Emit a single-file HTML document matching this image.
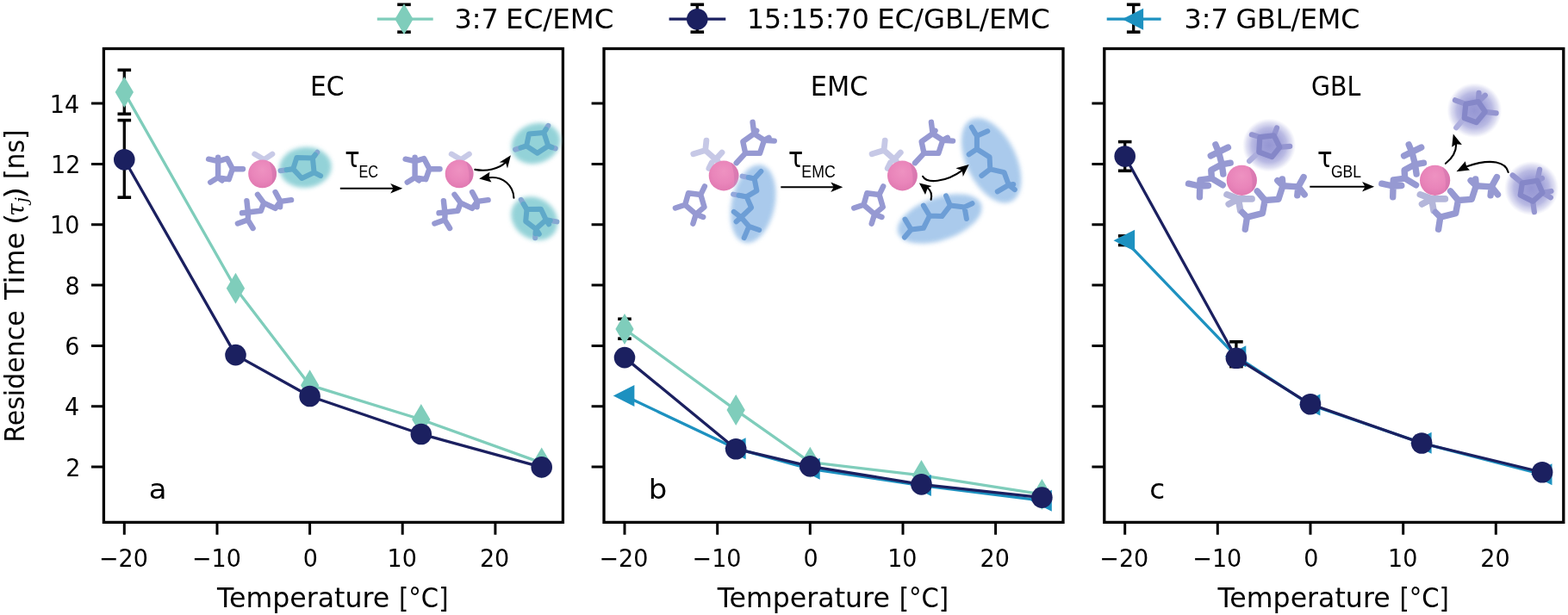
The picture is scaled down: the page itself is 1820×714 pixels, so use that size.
<!DOCTYPE html>
<html lang="en"><head><meta charset="utf-8"><title>Residence time vs temperature</title>
<style>html,body{margin:0;padding:0;background:#fff}body{width:1820px;height:714px;overflow:hidden}svg{display:block;filter:blur(0.35px)}</style>
</head><body>
<svg width="1820" height="714" viewBox="0 0 1820 714" font-family='"DejaVu Sans", "Liberation Sans", sans-serif' fill="#000">
<defs>
<filter id="b1" x="-10%" y="-10%" width="120%" height="120%"><feGaussianBlur stdDeviation="0.5"/></filter>
<filter id="b2" x="-40%" y="-40%" width="180%" height="180%"><feGaussianBlur stdDeviation="2.6"/></filter>
<radialGradient id="li" cx="0.5" cy="0.4" r="0.7" fx="0.5" fy="0.35">
<stop offset="0" stop-color="#ee92c1"/><stop offset="0.55" stop-color="#e985ba"/><stop offset="0.9" stop-color="#e078b0"/><stop offset="1" stop-color="#d56ea8"/>
</radialGradient>
<radialGradient id="hg" cx="0.5" cy="0.5" r="0.5">
<stop offset="0" stop-color="#9091d1" stop-opacity="0.95"/><stop offset="0.4" stop-color="#9798d5" stop-opacity="0.9"/><stop offset="0.65" stop-color="#a3a4da" stop-opacity="0.75"/><stop offset="0.85" stop-color="#b4b5e1" stop-opacity="0.42"/><stop offset="1" stop-color="#c8c9ea" stop-opacity="0"/>
</radialGradient>
</defs>
<rect width="1820" height="714" fill="#fff"/>
<path d="M437.8 22.2H502.7" stroke="#7fcdbb" stroke-width="3.3" fill="none"/><path d="M469.0 5.3V37.2" stroke="#000" stroke-width="3.3" fill="none"/><path d="M461.2 5.3H476.8" stroke="#000" stroke-width="3.6" fill="none"/><path d="M461.2 37.2H476.8" stroke="#000" stroke-width="3.6" fill="none"/><path d="M469.0 4.2L479.6 22.2L469.0 40.2L458.4 22.2Z" fill="#7fcdbb"/><text y="33.0" font-size="31.8" xml:space="preserve"><tspan x="527.51" textLength="51.26" lengthAdjust="spacingAndGlyphs">3:7</tspan> <tspan x="587.13" textLength="125.37" lengthAdjust="spacingAndGlyphs">EC/EMC</tspan></text>
<path d="M776.6 22.2H842.3" stroke="#1b2060" stroke-width="3.3" fill="none"/><path d="M809.3 5.3V37.2" stroke="#000" stroke-width="3.3" fill="none"/><path d="M801.5 5.3H817.1" stroke="#000" stroke-width="3.6" fill="none"/><path d="M801.5 37.2H817.1" stroke="#000" stroke-width="3.6" fill="none"/><circle cx="809.3" cy="22.2" r="12.3" fill="#1b2060"/><text y="33.0" font-size="31.8" xml:space="preserve"><tspan x="866.93" textLength="141.87" lengthAdjust="spacingAndGlyphs">15:15:70</tspan> <tspan x="1018.15" textLength="200.54" lengthAdjust="spacingAndGlyphs">EC/GBL/EMC</tspan></text>
<path d="M1284.7 22.2H1347.6" stroke="#1d91c0" stroke-width="3.3" fill="none"/><path d="M1315.7 5.3V37.2" stroke="#000" stroke-width="3.3" fill="none"/><path d="M1307.9 5.3H1323.5" stroke="#000" stroke-width="3.6" fill="none"/><path d="M1307.9 37.2H1323.5" stroke="#000" stroke-width="3.6" fill="none"/><path d="M1302.5 22.2L1327.1 9.7L1327.1 34.7Z" fill="#1d91c0"/><text y="33.0" font-size="31.8" xml:space="preserve"><tspan x="1374.46" textLength="51.31" lengthAdjust="spacingAndGlyphs">3:7</tspan> <tspan x="1434.56" textLength="143.92" lengthAdjust="spacingAndGlyphs">GBL/EMC</tspan></text>
<g><path d="M144.3 107.1L273.5 334.8L359.6 447.2L488.8 487.0L628.7 537.4" stroke="#7fcdbb" stroke-width="3.3" fill="none" stroke-linejoin="round"/><path d="M144.3 81.3V132.3" stroke="#000" stroke-width="3.3" fill="none"/><path d="M136.5 81.3H152.1" stroke="#000" stroke-width="3.6" fill="none"/><path d="M136.5 132.3H152.1" stroke="#000" stroke-width="3.6" fill="none"/><path d="M144.3 89.1L155.0 107.1L144.3 125.1L133.7 107.1Z" fill="#7fcdbb"/><path d="M273.5 316.8L284.1 334.8L273.5 352.8L262.8 334.8Z" fill="#7fcdbb"/><path d="M359.6 429.2L370.2 447.2L359.6 465.2L349.0 447.2Z" fill="#7fcdbb"/><path d="M488.8 469.0L499.4 487.0L488.8 505.0L478.1 487.0Z" fill="#7fcdbb"/><path d="M628.7 519.4L639.4 537.4L628.7 555.4L618.1 537.4Z" fill="#7fcdbb"/><path d="M144.3 185.2L273.5 412.1L359.6 460.0L488.8 504.0L628.7 542.4" stroke="#1b2060" stroke-width="3.3" fill="none" stroke-linejoin="round"/><path d="M144.3 139.6V229.2" stroke="#000" stroke-width="3.3" fill="none"/><path d="M136.5 139.6H152.1" stroke="#000" stroke-width="3.6" fill="none"/><path d="M136.5 229.2H152.1" stroke="#000" stroke-width="3.6" fill="none"/><circle cx="144.3" cy="185.2" r="12.3" fill="#1b2060"/><circle cx="273.5" cy="412.1" r="12.3" fill="#1b2060"/><circle cx="359.6" cy="460.0" r="12.3" fill="#1b2060"/><circle cx="488.8" cy="504.0" r="12.3" fill="#1b2060"/><circle cx="628.7" cy="542.4" r="12.3" fill="#1b2060"/></g>
<rect x="120.4" y="56.5" width="533.0" height="549.9" fill="none" stroke="#000" stroke-width="3.3"/>
<path d="M144.3 606.4V620.8M252.0 606.4V620.8M359.6 606.4V620.8M467.2 606.4V620.8M574.9 606.4V620.8M120.4 542.1H106.0M120.4 471.8H106.0M120.4 401.4H106.0M120.4 331.1H106.0M120.4 260.7H106.0M120.4 190.4H106.0M120.4 120.1H106.0" stroke="#000" stroke-width="3.0" fill="none"/>
<text transform="translate(114.89 657.9) scale(0.9570 1)" font-size="28.2">−20</text>
<text transform="translate(222.94 657.9) scale(0.9570 1)" font-size="28.2">−10</text>
<text transform="translate(351.78 657.9) scale(0.9570 1)" font-size="28.2">0</text>
<text transform="translate(449.57 657.9) scale(0.9570 1)" font-size="28.2">10</text>
<text transform="translate(556.93 657.9) scale(0.9570 1)" font-size="28.2">20</text>
<text transform="translate(76.26 552.5) scale(0.9570 1)" font-size="28.2">2</text>
<text transform="translate(75.05 482.2) scale(0.9570 1)" font-size="28.2">4</text>
<text transform="translate(75.25 411.8) scale(0.9570 1)" font-size="28.2">6</text>
<text transform="translate(75.38 341.5) scale(0.9570 1)" font-size="28.2">8</text>
<text transform="translate(58.11 271.1) scale(0.9570 1)" font-size="28.2">10</text>
<text transform="translate(59.06 200.8) scale(0.9570 1)" font-size="28.2">12</text>
<text transform="translate(57.84 130.5) scale(0.9570 1)" font-size="28.2">14</text>
<text y="704.7" font-size="31.8" xml:space="preserve"><tspan x="252.03" textLength="200.22" lengthAdjust="spacingAndGlyphs">Temperature</tspan> <tspan x="463.03" textLength="57.47" lengthAdjust="spacingAndGlyphs">[°C]</tspan></text>
<text transform="translate(360.06 110.7) scale(0.9333 1)" font-size="31.8">EC</text>
<text transform="translate(172.86 579.2) scale(1.0675 1)" font-size="31.8">a</text>
<g><path d="M725.0 382.0L854.2 476.1L940.3 536.7L1069.5 551.9L1209.4 573.9" stroke="#7fcdbb" stroke-width="3.3" fill="none" stroke-linejoin="round"/><path d="M725.0 370.3V393.2" stroke="#000" stroke-width="3.3" fill="none"/><path d="M717.2 370.3H732.8" stroke="#000" stroke-width="3.6" fill="none"/><path d="M717.2 393.2H732.8" stroke="#000" stroke-width="3.6" fill="none"/><path d="M725.0 364.0L735.6 382.0L725.0 400.0L714.4 382.0Z" fill="#7fcdbb"/><path d="M854.2 458.1L864.8 476.1L854.2 494.1L843.5 476.1Z" fill="#7fcdbb"/><path d="M940.3 518.7L951.0 536.7L940.3 554.7L929.7 536.7Z" fill="#7fcdbb"/><path d="M1069.5 533.9L1080.1 551.9L1069.5 569.9L1058.8 551.9Z" fill="#7fcdbb"/><path d="M1209.4 555.9L1220.1 573.9L1209.4 591.9L1198.8 573.9Z" fill="#7fcdbb"/><path d="M725.0 459.6L854.2 520.7L940.3 544.3L1069.5 563.5L1209.4 581.2" stroke="#1d91c0" stroke-width="3.3" fill="none" stroke-linejoin="round"/><path d="M711.8 459.6L736.4 447.1L736.4 472.1Z" fill="#1d91c0"/><path d="M841.0 520.7L865.6 508.2L865.6 533.2Z" fill="#1d91c0"/><path d="M927.1 544.3L951.7 531.8L951.7 556.8Z" fill="#1d91c0"/><path d="M1056.3 563.5L1080.9 551.0L1080.9 576.0Z" fill="#1d91c0"/><path d="M1196.2 581.2L1220.8 568.7L1220.8 593.7Z" fill="#1d91c0"/><path d="M725.0 415.1L854.2 521.2L940.3 541.3L1069.5 562.4L1209.4 577.6" stroke="#1b2060" stroke-width="3.3" fill="none" stroke-linejoin="round"/><circle cx="725.0" cy="415.1" r="12.3" fill="#1b2060"/><circle cx="854.2" cy="521.2" r="12.3" fill="#1b2060"/><circle cx="940.3" cy="541.3" r="12.3" fill="#1b2060"/><circle cx="1069.5" cy="562.4" r="12.3" fill="#1b2060"/><circle cx="1209.4" cy="577.6" r="12.3" fill="#1b2060"/></g>
<rect x="701.0" y="56.5" width="533.0" height="549.9" fill="none" stroke="#000" stroke-width="3.3"/>
<path d="M725.0 606.4V620.8M832.7 606.4V620.8M940.3 606.4V620.8M1048.0 606.4V620.8M1155.6 606.4V620.8M701.0 542.1H686.6M701.0 471.8H686.6M701.0 401.4H686.6M701.0 331.1H686.6M701.0 260.7H686.6M701.0 190.4H686.6M701.0 120.1H686.6" stroke="#000" stroke-width="3.0" fill="none"/>
<text transform="translate(695.49 657.9) scale(0.9570 1)" font-size="28.2">−20</text>
<text transform="translate(803.54 657.9) scale(0.9570 1)" font-size="28.2">−10</text>
<text transform="translate(932.38 657.9) scale(0.9570 1)" font-size="28.2">0</text>
<text transform="translate(1030.17 657.9) scale(0.9570 1)" font-size="28.2">10</text>
<text transform="translate(1137.53 657.9) scale(0.9570 1)" font-size="28.2">20</text>
<text y="704.7" font-size="31.8" xml:space="preserve"><tspan x="832.63" textLength="200.22" lengthAdjust="spacingAndGlyphs">Temperature</tspan> <tspan x="1043.63" textLength="57.47" lengthAdjust="spacingAndGlyphs">[°C]</tspan></text>
<text transform="translate(940.84 110.7) scale(0.9546 1)" font-size="31.8">EMC</text>
<text transform="translate(752.85 579.2) scale(1.0653 1)" font-size="31.8">b</text>
<g><path d="M1305.7 279.2L1434.9 413.7L1521.0 470.1L1650.2 514.3L1790.1 550.8" stroke="#1d91c0" stroke-width="3.3" fill="none" stroke-linejoin="round"/><path d="M1305.7 273.9V284.5" stroke="#000" stroke-width="3.3" fill="none"/><path d="M1297.9 273.9H1313.5" stroke="#000" stroke-width="3.6" fill="none"/><path d="M1297.9 284.5H1313.5" stroke="#000" stroke-width="3.6" fill="none"/><path d="M1292.5 279.2L1317.1 266.7L1317.1 291.7Z" fill="#1d91c0"/><path d="M1421.7 413.7L1446.3 401.2L1446.3 426.2Z" fill="#1d91c0"/><path d="M1507.8 470.1L1532.4 457.6L1532.4 482.6Z" fill="#1d91c0"/><path d="M1637.0 514.3L1661.6 501.8L1661.6 526.8Z" fill="#1d91c0"/><path d="M1776.9 550.8L1801.5 538.3L1801.5 563.3Z" fill="#1d91c0"/><path d="M1305.7 181.5L1434.9 415.7L1521.0 469.3L1650.2 514.5L1790.1 548.3" stroke="#1b2060" stroke-width="3.3" fill="none" stroke-linejoin="round"/><path d="M1305.7 164.6V198.3" stroke="#000" stroke-width="3.3" fill="none"/><path d="M1297.9 164.6H1313.5" stroke="#000" stroke-width="3.6" fill="none"/><path d="M1297.9 198.3H1313.5" stroke="#000" stroke-width="3.6" fill="none"/><path d="M1434.9 396.8V425.6" stroke="#000" stroke-width="3.3" fill="none"/><path d="M1427.1 396.8H1442.7" stroke="#000" stroke-width="3.6" fill="none"/><path d="M1427.1 425.6H1442.7" stroke="#000" stroke-width="3.6" fill="none"/><circle cx="1305.7" cy="181.5" r="12.3" fill="#1b2060"/><circle cx="1434.9" cy="415.7" r="12.3" fill="#1b2060"/><circle cx="1521.0" cy="469.3" r="12.3" fill="#1b2060"/><circle cx="1650.2" cy="514.5" r="12.3" fill="#1b2060"/><circle cx="1790.1" cy="548.3" r="12.3" fill="#1b2060"/></g>
<rect x="1281.8" y="56.5" width="533.0" height="549.9" fill="none" stroke="#000" stroke-width="3.3"/>
<path d="M1305.7 606.4V620.8M1413.3 606.4V620.8M1521.0 606.4V620.8M1628.7 606.4V620.8M1736.3 606.4V620.8M1281.8 542.1H1267.4M1281.8 471.8H1267.4M1281.8 401.4H1267.4M1281.8 331.1H1267.4M1281.8 260.7H1267.4M1281.8 190.4H1267.4M1281.8 120.1H1267.4" stroke="#000" stroke-width="3.0" fill="none"/>
<text transform="translate(1276.29 657.9) scale(0.9570 1)" font-size="28.2">−20</text>
<text transform="translate(1384.34 657.9) scale(0.9570 1)" font-size="28.2">−10</text>
<text transform="translate(1513.18 657.9) scale(0.9570 1)" font-size="28.2">0</text>
<text transform="translate(1610.97 657.9) scale(0.9570 1)" font-size="28.2">10</text>
<text transform="translate(1718.33 657.9) scale(0.9570 1)" font-size="28.2">20</text>
<text y="704.7" font-size="31.8" xml:space="preserve"><tspan x="1413.43" textLength="200.22" lengthAdjust="spacingAndGlyphs">Temperature</tspan> <tspan x="1624.43" textLength="57.47" lengthAdjust="spacingAndGlyphs">[°C]</tspan></text>
<text transform="translate(1521.94 110.7) scale(0.8932 1)" font-size="31.8">GBL</text>
<text transform="translate(1334.31 579.2) scale(1.0252 1)" font-size="31.8">c</text>
<text transform="translate(28.0 0) rotate(-90)" font-size="31.8" xml:space="preserve"><tspan x="-513.72" y="0" textLength="153.31" lengthAdjust="spacingAndGlyphs">Residence</tspan> <tspan x="-347.92" y="0" textLength="78.09" lengthAdjust="spacingAndGlyphs">Time</tspan> <tspan x="-260.91" y="0" textLength="13.35" lengthAdjust="spacingAndGlyphs">(</tspan><tspan x="-251.10" y="0" textLength="14.79" lengthAdjust="spacingAndGlyphs" font-size="28" font-family='"DejaVu Serif", "Liberation Serif", serif' font-style="italic">τ</tspan><tspan x="-235.06" y="4.3" textLength="5.84" lengthAdjust="spacingAndGlyphs" font-size="20" font-family='"DejaVu Serif", "Liberation Serif", serif' font-style="italic">j</tspan><tspan x="-230.74" y="0" textLength="13.87" lengthAdjust="spacingAndGlyphs">)</tspan> <tspan x="-208.03" y="0" textLength="57.51" lengthAdjust="spacingAndGlyphs">[ns]</tspan></text>
<g id="mol-a" filter="url(#b1)"><path d="M295.5 178.8L306.4 185.3L316.1 178.8M306.4 185.3L306.4 188.1" fill="none" stroke="#c8cae7" stroke-width="6.4" stroke-linecap="round" stroke-linejoin="round"/><circle cx="304.6" cy="201.8" r="16.4" fill="url(#li)"/><path d="M312.3 187.3A16.4 16.4 0 0 1 315.6 214.0A49.2 49.2 0 0 0 312.3 187.3Z" fill="#c568a6" opacity="0.38"/><path d="M242.1 184.7L253.1 187.2M253.1 182.6L253.1 206.1L257.7 209.5M253.1 187.2L263.6 184.1L269.9 196.0L265.7 208.2L257.3 207.0M269.9 196.0L282.0 196.2M244.2 211.6L253.1 206.1" fill="none" stroke="#9699d2" stroke-width="6.4" stroke-linecap="round" stroke-linejoin="round"/><path d="M286.4 233.1L288.1 248.6L287.7 255.3M281.0 247.3L302.8 244.8L306.2 235.6L319.6 241.9L325.5 233.9L338.1 232.2M299.0 225.9L306.2 235.6M319.6 223.0L325.5 233.9L325.1 240.2M275.9 259.5L287.7 255.3L293.6 265.0" fill="none" stroke="#9699d2" stroke-width="6.4" stroke-linecap="round" stroke-linejoin="round"/><ellipse cx="354.5" cy="194.4" rx="30.3" ry="23.6" transform="rotate(-5 354.5 194.4)" fill="#8ed0d6" opacity="0.95" filter="url(#b2)"/><path d="M325.5 198.2L340.2 196.1M362.9 183.5L368.3 176.8" fill="none" stroke="#86a8d2" stroke-width="6.0" stroke-linecap="round" stroke-linejoin="round"/><path d="M344.4 183.1L362.9 183.5L364.6 200.3L350.3 207.0L340.2 196.1ZM332.6 197.3L340.2 196.1M362.9 183.5L365.8 179.7M364.6 200.3L372.1 204.1" fill="none" stroke="#5fa9c9" stroke-width="6.0" stroke-linecap="round" stroke-linejoin="round"/><path d="M524.0 178.8L534.9 185.3L544.6 178.8M534.9 185.3L534.9 188.1" fill="none" stroke="#c8cae7" stroke-width="6.4" stroke-linecap="round" stroke-linejoin="round"/><circle cx="533.1" cy="201.8" r="16.4" fill="url(#li)"/><path d="M540.8 187.3A16.4 16.4 0 0 1 544.1 214.0A49.2 49.2 0 0 0 540.8 187.3Z" fill="#c568a6" opacity="0.38"/><path d="M470.6 184.7L481.6 187.2M481.6 182.6L481.6 206.1L486.2 209.5M481.6 187.2L492.1 184.1L498.4 196.0L494.2 208.2L485.8 207.0M498.4 196.0L510.5 196.2M472.7 211.6L481.6 206.1" fill="none" stroke="#9699d2" stroke-width="6.4" stroke-linecap="round" stroke-linejoin="round"/><path d="M514.9 233.1L516.6 248.6L516.2 255.3M509.5 247.3L531.3 244.8L534.7 235.6L548.1 241.9L554.0 233.9L566.6 232.2M527.5 225.9L534.7 235.6M548.1 223.0L554.0 233.9L553.6 240.2M504.4 259.5L516.2 255.3L522.1 265.0" fill="none" stroke="#9699d2" stroke-width="6.4" stroke-linecap="round" stroke-linejoin="round"/><ellipse cx="622.0" cy="166.5" rx="29.0" ry="23.1" transform="rotate(-20 622.0 166.5)" fill="#8ed0d6" opacity="0.95" filter="url(#b2)"/><path d="M598.1 173.6L611.1 169.4M631.2 153.9L636.3 145.9M636.3 169.4L644.7 172.4" fill="none" stroke="#86a8d2" stroke-width="6.0" stroke-linecap="round" stroke-linejoin="round"/><path d="M614.0 155.6L631.2 153.9L636.3 169.4L623.7 177.8L611.1 169.4ZM604.4 171.5L611.1 169.4M631.2 153.9L633.8 150.1M636.3 169.4L640.5 171.1" fill="none" stroke="#5fa9c9" stroke-width="6.0" stroke-linecap="round" stroke-linejoin="round"/><ellipse cx="620.3" cy="253.6" rx="28.6" ry="23.6" transform="rotate(35 620.3 253.6)" fill="#8ed0d6" opacity="0.95" filter="url(#b2)"/><path d="M604.8 231.8L611.5 243.1M633.8 255.3L646.4 257.4M622.0 265.8L621.2 276.3" fill="none" stroke="#86a8d2" stroke-width="6.0" stroke-linecap="round" stroke-linejoin="round"/><path d="M611.5 243.1L627.9 242.7L633.8 255.3L622.0 265.8L610.2 257.0ZM607.7 236.8L611.5 243.1M633.8 255.3L638.8 256.1M633.8 255.3L637.1 260.3M622.0 265.8L621.6 271.2M622.0 265.8L625.8 271.7" fill="none" stroke="#5fa9c9" stroke-width="6.0" stroke-linecap="round" stroke-linejoin="round"/></g>
<g id="arrows-a"><path d="M394.8 218.7H457.6" stroke="#000" stroke-width="2.1" fill="none"/><path d="M467.2 218.7L453.2 212.9L456.6 218.7L453.2 224.5Z" fill="#000"/><path d="M551.3 196.9 C564.5 199.3 579.2 196.4 587.1 188.3 " stroke="#000" stroke-width="2.1" fill="none" stroke-linecap="round"/><path d="M592.9 180.2L579.7 188.5L586.9 188.8L589.0 195.4Z" fill="#000"/><path d="M596.4 229.7 C595.9 216.0 584.1 204.2 567.9 206.2 " stroke="#000" stroke-width="2.1" fill="none" stroke-linecap="round"/><path d="M556.2 207.4L568.4 199.8L567.6 206.2L570.4 211.6Z" fill="#000"/><text><tspan x="400.26" y="193.7" textLength="17.37" lengthAdjust="spacingAndGlyphs" font-family='"DejaVu Sans", "Liberation Sans", sans-serif' font-size="32.7">τ</tspan><tspan x="416.46" y="206.2" textLength="22.58" lengthAdjust="spacingAndGlyphs" font-family='"Liberation Sans", "DejaVu Sans", sans-serif' font-size="19.4">EC</tspan></text></g>
<g id="mol-b" filter="url(#b1)"><path d="M819.9 163.1L818.7 174.5L833.0 187.1M804.8 178.7L818.7 174.5M838.0 177.0L830.4 185.4M826.2 188.8L822.9 195.5" fill="none" stroke="#c6c8e6" stroke-width="6.8" stroke-linecap="round" stroke-linejoin="round"/><circle cx="840.1" cy="204.0" r="17.4" fill="url(#li)"/><path d="M848.3 188.6A17.4 17.4 0 0 1 851.7 216.9A52.2 52.2 0 0 0 848.3 188.6Z" fill="#c568a6" opacity="0.38"/><path d="M875.3 155.2L887.0 162.8L882.0 177.9L865.2 177.9L862.3 164.4ZM873.6 141.8L875.3 155.2L878.2 151.8M887.0 162.8L898.8 163.6M887.0 162.8L892.5 159.8M865.2 177.9L854.7 189.2" fill="none" stroke="#9699d2" stroke-width="6.4" stroke-linecap="round" stroke-linejoin="round"/><path d="M799.0 224.3L813.3 226.0L817.5 240.3L807.8 248.7L795.2 237.8ZM813.3 226.0L817.9 216.3M783.9 241.5L795.2 237.8M804.4 259.6L807.8 248.7L816.2 252.0" fill="none" stroke="#9699d2" stroke-width="6.4" stroke-linecap="round" stroke-linejoin="round"/><ellipse cx="874.2" cy="236.6" rx="25.1" ry="46.1" transform="rotate(12 874.2 236.6)" fill="#a6c8eb" opacity="0.95" filter="url(#b2)"/><path d="M861.6 204.6L875.6 207.4M851.1 225.6L866.5 228.4" fill="none" stroke="#93a8dc" stroke-width="6.0" stroke-linecap="round" stroke-linejoin="round"/><path d="M868.6 206.0L875.6 207.4L878.4 221.4L866.5 228.4L872.1 241.0L860.2 252.3L869.3 262.8L881.2 267.0M883.3 199.0L875.6 207.4M857.4 226.8L866.5 228.4M851.8 245.9L860.2 252.3L854.6 257.2M869.3 262.8L863.7 276.1" fill="none" stroke="#6d9ed6" stroke-width="6.0" stroke-linecap="round" stroke-linejoin="round"/><path d="M1027.2 163.1L1026.0 174.5L1040.3 187.1M1012.1 178.7L1026.0 174.5M1045.3 177.0L1037.7 185.4M1033.5 188.8L1030.2 195.5" fill="none" stroke="#c6c8e6" stroke-width="6.8" stroke-linecap="round" stroke-linejoin="round"/><circle cx="1047.4" cy="204.0" r="17.4" fill="url(#li)"/><path d="M1055.6 188.6A17.4 17.4 0 0 1 1059.0 216.9A52.2 52.2 0 0 0 1055.6 188.6Z" fill="#c568a6" opacity="0.38"/><path d="M1082.6 155.2L1094.3 162.8L1089.3 177.9L1072.5 177.9L1069.6 164.4ZM1080.9 141.8L1082.6 155.2L1085.5 151.8M1094.3 162.8L1106.1 163.6M1094.3 162.8L1099.8 159.8M1072.5 177.9L1062.0 189.2" fill="none" stroke="#9699d2" stroke-width="6.4" stroke-linecap="round" stroke-linejoin="round"/><path d="M1006.3 224.3L1020.6 226.0L1024.8 240.3L1015.1 248.7L1002.5 237.8ZM1020.6 226.0L1025.2 216.3M991.2 241.5L1002.5 237.8M1011.7 259.6L1015.1 248.7L1023.5 252.0" fill="none" stroke="#9699d2" stroke-width="6.4" stroke-linecap="round" stroke-linejoin="round"/><ellipse cx="1090.7" cy="254.0" rx="51.0" ry="24.8" transform="rotate(-19 1090.7 254.0)" fill="#a6c8eb" opacity="0.95" filter="url(#b2)"/><path d="M1050.5 254.6L1057.6 266.5L1071.9 264.8L1079.0 250.5L1093.3 251.1L1102.9 238.6L1119.5 240.4L1128.5 236.2M1049.9 275.5L1057.6 266.5M1071.9 238.6L1079.0 250.5M1098.1 227.3L1102.9 238.6M1119.5 240.4L1121.9 254.0" fill="none" stroke="#6d9ed6" stroke-width="6.0" stroke-linecap="round" stroke-linejoin="round"/><ellipse cx="1150.6" cy="186.4" rx="28.9" ry="52.8" transform="rotate(-26 1150.6 186.4)" fill="#a6c8eb" opacity="0.95" filter="url(#b2)"/><path d="M1127.8 147.7L1133.9 157.7L1133.9 173.1L1148.6 182.4L1149.3 196.3L1165.5 200.1L1170.9 214.7L1177.8 220.1M1146.3 152.3L1133.9 157.7M1124.7 179.3L1133.9 173.1M1139.3 204.0L1149.3 196.3M1157.8 222.4L1170.9 214.7M1133.9 157.7L1130.8 153.1M1170.9 214.7L1176.3 214.0" fill="none" stroke="#6d9ed6" stroke-width="6.0" stroke-linecap="round" stroke-linejoin="round"/></g>
<g id="arrows-b"><path d="M906.3 217.2H968.7" stroke="#000" stroke-width="2.1" fill="none"/><path d="M978.3 217.2L964.3 211.4L967.7 217.2L964.3 223.0Z" fill="#000"/><path d="M1071.1 204.8 C1075.5 213.1 1097.1 212.2 1117.2 197.6 " stroke="#000" stroke-width="2.1" fill="none" stroke-linecap="round"/><path d="M1124.7 190.9L1109.4 195.3L1116.7 198.0L1117.8 204.9Z" fill="#000"/><path d="M1080.6 231.8 C1081.9 225.9 1080.4 221.0 1076.5 218.0 " stroke="#000" stroke-width="2.1" fill="none" stroke-linecap="round"/><path d="M1066.9 212.6L1081.4 216.1L1076.7 218.2L1074.0 225.9Z" fill="#000"/><text><tspan x="914.97" y="193.7" textLength="17.25" lengthAdjust="spacingAndGlyphs" font-family='"DejaVu Sans", "Liberation Sans", sans-serif' font-size="32.7">τ</tspan><tspan x="930.34" y="206.2" textLength="39.36" lengthAdjust="spacingAndGlyphs" font-family='"Liberation Sans", "DejaVu Sans", sans-serif' font-size="19.4">EMC</tspan></text></g>
<g id="mol-c" filter="url(#b1)"><path d="M1424.0 225.8L1437.4 230.9L1453.1 230.9M1426.2 237.0L1437.4 230.9L1439.7 244.3" fill="none" stroke="#b4b6da" stroke-width="7.6" stroke-linecap="round" stroke-linejoin="round"/><circle cx="1441.3" cy="209.3" r="17.6" fill="url(#li)"/><path d="M1449.6 193.8A17.6 17.6 0 0 1 1453.1 222.4A52.8 52.8 0 0 0 1449.6 193.8Z" fill="#c568a6" opacity="0.38"/><path d="M1410.9 167.9L1414.8 177.4L1418.2 190.8L1419.8 202.0M1425.4 171.2L1405.3 180.8M1428.2 189.2L1418.2 190.8L1405.8 197.6L1406.4 207.1L1419.3 214.9M1406.4 207.1L1393.0 208.8L1392.4 228.9M1379.5 213.2L1392.4 216.0L1402.5 215.5" fill="none" stroke="#9699d2" stroke-width="7.4" stroke-linecap="round" stroke-linejoin="round"/><path d="M1459.3 221.9L1468.2 232.5L1483.9 231.4L1489.0 215.7L1506.9 216.9L1513.1 205.6M1482.8 209.6L1489.0 215.7L1488.4 207.9M1505.8 226.9L1506.9 216.9L1514.2 225.8M1468.2 232.5L1465.4 247.7L1447.5 252.1L1445.3 266.2M1441.9 246.5L1447.5 252.1" fill="none" stroke="#9699d2" stroke-width="7.4" stroke-linecap="round" stroke-linejoin="round"/><circle cx="1473.1" cy="168.6" r="31.1" fill="url(#hg)"/><path d="M1461.3 176.5L1450.1 187.1" fill="none" stroke="#adaedd" stroke-width="6.2" stroke-linecap="round" stroke-linejoin="round"/><path d="M1452.9 156.3L1462.4 159.1M1478.7 157.4L1482.0 148.5M1485.4 170.9L1497.2 169.8" fill="none" stroke="#9495d0" stroke-width="6.2" stroke-linecap="round" stroke-linejoin="round"/><path d="M1462.4 159.1L1478.7 157.4L1485.4 170.9L1476.4 182.1L1461.3 176.5Z" fill="none" stroke="#8587c8" stroke-width="6.2" stroke-linecap="round" stroke-linejoin="round"/><path d="M1648.3 225.8L1661.7 230.9L1677.4 230.9M1650.5 237.0L1661.7 230.9L1664.0 244.3" fill="none" stroke="#b4b6da" stroke-width="7.6" stroke-linecap="round" stroke-linejoin="round"/><circle cx="1665.6" cy="209.3" r="17.6" fill="url(#li)"/><path d="M1673.9 193.8A17.6 17.6 0 0 1 1677.4 222.4A52.8 52.8 0 0 0 1673.9 193.8Z" fill="#c568a6" opacity="0.38"/><path d="M1635.2 167.9L1639.1 177.4L1642.5 190.8L1644.1 202.0M1649.7 171.2L1629.6 180.8M1652.5 189.2L1642.5 190.8L1630.1 197.6L1630.7 207.1L1643.6 214.9M1630.7 207.1L1617.3 208.8L1616.7 228.9M1603.8 213.2L1616.7 216.0L1626.8 215.5" fill="none" stroke="#9699d2" stroke-width="7.4" stroke-linecap="round" stroke-linejoin="round"/><path d="M1683.6 221.9L1692.5 232.5L1708.2 231.4L1713.3 215.7L1731.2 216.9L1737.4 205.6M1707.1 209.6L1713.3 215.7L1712.7 207.9M1730.1 226.9L1731.2 216.9L1738.5 225.8M1692.5 232.5L1689.7 247.7L1671.8 252.1L1669.6 266.2M1666.2 246.5L1671.8 252.1" fill="none" stroke="#9699d2" stroke-width="7.4" stroke-linecap="round" stroke-linejoin="round"/><circle cx="1711.4" cy="128.1" r="31.9" fill="url(#hg)"/><path d="M1699.7 137.0L1690.2 148.2" fill="none" stroke="#adaedd" stroke-width="6.2" stroke-linecap="round" stroke-linejoin="round"/><path d="M1689.0 116.3L1701.4 120.8M1716.5 107.9L1715.9 118.0L1723.8 110.7M1723.8 129.8L1736.6 131.4" fill="none" stroke="#9495d0" stroke-width="6.2" stroke-linecap="round" stroke-linejoin="round"/><path d="M1701.4 120.8L1715.9 118.0L1723.8 129.8L1713.7 142.1L1699.7 137.0Z" fill="none" stroke="#8587c8" stroke-width="6.2" stroke-linecap="round" stroke-linejoin="round"/><circle cx="1777.6" cy="218.6" r="31.6" fill="url(#hg)"/><path d="M1755.7 203.5L1766.9 212.5M1787.1 196.8L1784.3 209.7L1789.9 206.9M1800.5 222.0L1790.4 223.7L1799.9 229.3M1779.2 233.8L1780.9 246.1" fill="none" stroke="#9495d0" stroke-width="6.2" stroke-linecap="round" stroke-linejoin="round"/><path d="M1766.9 212.5L1784.3 209.7L1790.4 223.7L1779.2 233.8L1764.7 226.5Z" fill="none" stroke="#8587c8" stroke-width="6.2" stroke-linecap="round" stroke-linejoin="round"/></g>
<g id="arrows-c"><path d="M1520.3 216.7H1585.5" stroke="#000" stroke-width="2.1" fill="none"/><path d="M1595.1 216.7L1581.1 210.9L1584.5 216.7L1581.1 222.5Z" fill="#000"/><path d="M1677.9 189.8 C1686.3 183.1 1690.2 175.2 1690.2 167.4 " stroke="#000" stroke-width="2.1" fill="none" stroke-linecap="round"/><path d="M1686.8 155.6L1685.2 170.8L1690.3 167.2L1696.9 168.0Z" fill="#000"/><path d="M1750.7 199.9 C1747.9 188.7 1732.2 183.1 1702.5 193.2 " stroke="#000" stroke-width="2.1" fill="none" stroke-linecap="round"/><path d="M1690.5 199.3L1700.8 187.3L1702.2 193.4L1705.9 197.6Z" fill="#000"/><text><tspan x="1528.94" y="193.7" textLength="17.61" lengthAdjust="spacingAndGlyphs" font-family='"DejaVu Sans", "Liberation Sans", sans-serif' font-size="32.7">τ</tspan><tspan x="1544.92" y="206.2" textLength="35.06" lengthAdjust="spacingAndGlyphs" font-family='"Liberation Sans", "DejaVu Sans", sans-serif' font-size="19.4">GBL</tspan></text></g>
</svg>
</body></html>
